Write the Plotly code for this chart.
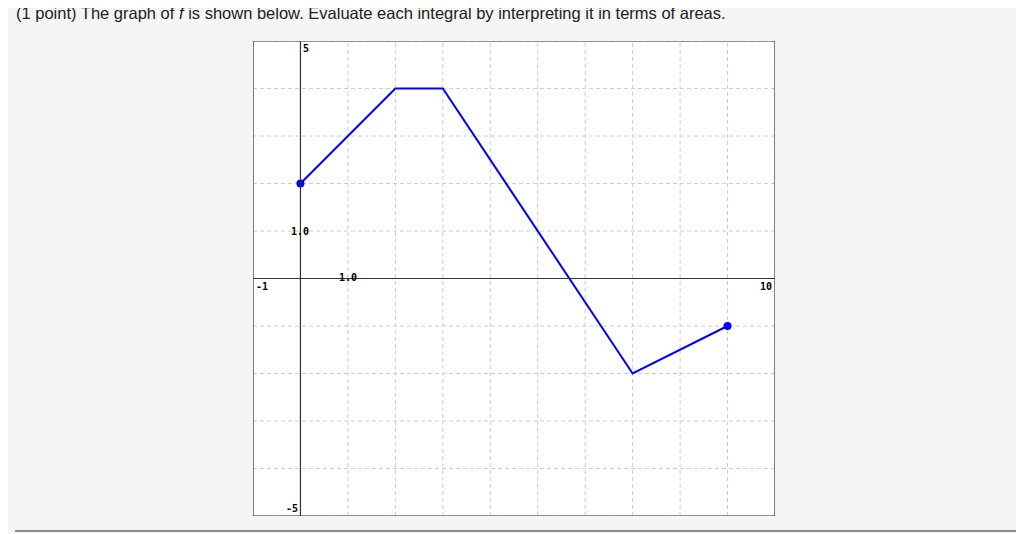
import plotly.graph_objects as go

xs = [0, 2, 3, 7, 9]
ys = [2, 4, 4, -2, -1]
end_x = [0, 9]
end_y = [2, -1]
grid_x = list(range(-1, 11))
grid_y = list(range(-5, 6))

fig = go.Figure()
fig.add_trace(go.Scatter(x=xs, y=ys, mode="lines", line=dict(color="#0000ff", width=2), hoverinfo="skip"))
fig.add_trace(go.Scatter(x=end_x, y=end_y, mode="markers", marker=dict(color="#0000ff", size=8), hoverinfo="skip"))

shapes = []
for gx in grid_x:
    shapes.append(dict(type="line", xref="x", yref="y", x0=gx, x1=gx, y0=-5, y1=5, layer="below",
                       line=dict(color="#cccccc", width=1, dash="4px,3px")))
for gy in grid_y:
    shapes.append(dict(type="line", xref="x", yref="y", x0=-1, x1=10, y0=gy, y1=gy, layer="below",
                       line=dict(color="#cccccc", width=1, dash="4px,3px")))
shapes.append(dict(type="line", xref="x", yref="y", x0=0, x1=0, y0=-5, y1=5, line=dict(color="#333", width=1.2)))
shapes.append(dict(type="line", xref="x", yref="y", x0=-1, x1=10, y0=0, y1=0, line=dict(color="#333", width=1.2)))
shapes.append(dict(type="rect", xref="x", yref="y", x0=-1, x1=10, y0=-5, y1=5, line=dict(color="#333", width=1.2)))
shapes.append(dict(type="line", xref="paper", yref="paper", x0=-238/522, x1=1+249/522, y0=-15/475, y1=-15/475,
                   line=dict(color="#222", width=1)))

lf = dict(family="DejaVu Sans Mono", size=10, color="#000")
ann = [
    dict(x=0, y=5, text="<b>5</b>", xanchor="left", yanchor="top", xshift=1),
    dict(x=0, y=-5, text="<b>-5</b>", xanchor="right", yanchor="bottom"),
    dict(x=-1, y=0, text="<b>-1</b>", xanchor="left", yanchor="top", xshift=1),
    dict(x=10, y=0, text="<b>10</b>", xanchor="right", yanchor="top", xshift=-1),
    dict(x=0, y=1, text="<b>1.0</b>", xanchor="center", yanchor="middle"),
    dict(x=1, y=0, text="<b>1.0</b>", xanchor="center", yanchor="middle", yshift=1),
]
for a in ann:
    a.update(xref="x", yref="y", showarrow=False, font=lf)
ann.append(dict(xref="paper", yref="paper", x=-239/522, y=1+28/475, xanchor="left", yanchor="middle", showarrow=False,
                text="(1 point) The graph of <i>f</i> is shown below. Evaluate each integral by interpreting it in terms of areas.",
                font=dict(family="Liberation Sans", size=16.5, color="#222")))

fig.update_layout(
    width=1024, height=534, margin=dict(l=245, r=257, t=33, b=26),
    paper_bgcolor="#f5f5f5", plot_bgcolor="#ffffff", showlegend=False,
    xaxis=dict(range=[-1, 10], showgrid=False, zeroline=False, showticklabels=False, fixedrange=True),
    yaxis=dict(range=[-5, 5], showgrid=False, zeroline=False, showticklabels=False, fixedrange=True),
    shapes=shapes, annotations=ann,
)
fig.write_html("out.html", config=dict(displayModeBar=False))
